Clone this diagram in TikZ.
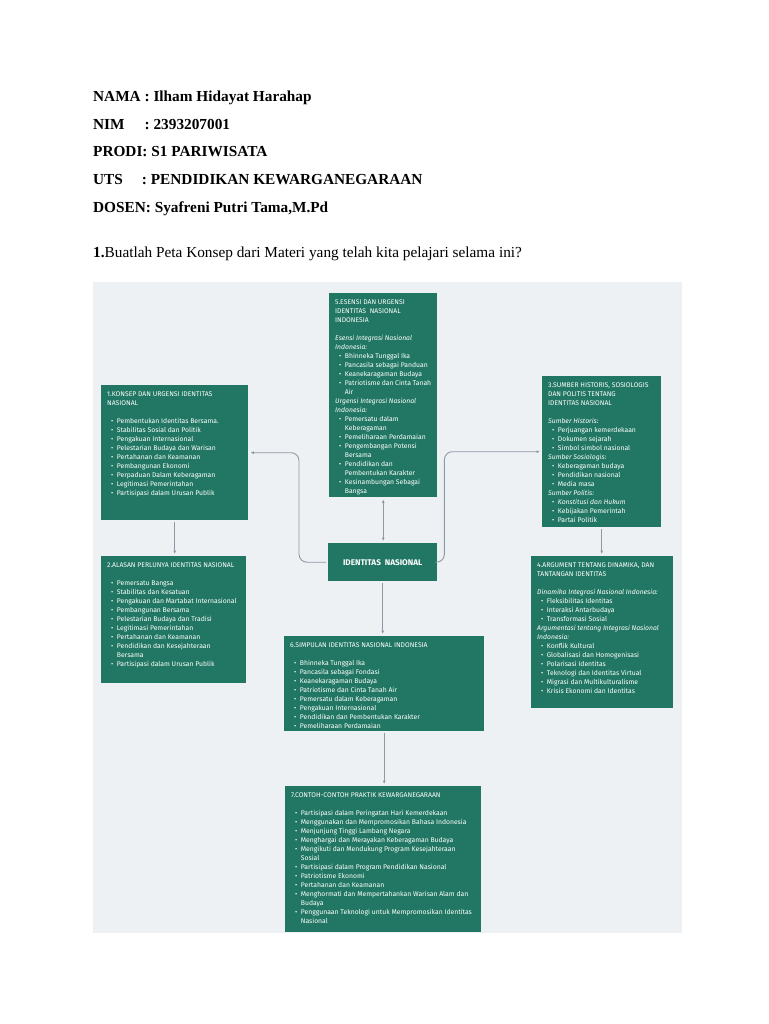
\documentclass[tikz,border=0pt]{standalone}
\usepackage{fontspec}
\setmainfont{Liberation Serif}
\newfontfamily\mapfont{Fira Sans}
\usetikzlibrary{arrows.meta, positioning}
\definecolor{mapgreen}{RGB}{33,119,99}
\definecolor{mapbg}{RGB}{238,241,244}
\definecolor{linkgray}{RGB}{142,153,166}
\newcommand{\pitem}{\hspace*{4pt}\textbullet\hspace{3.5pt}}
\newcommand{\pcont}{\hspace*{4pt}\phantom{\textbullet}\hspace{3.5pt}}

\begin{document}
\begin{tikzpicture}[x=1pt, y=-1pt,
    head/.style={anchor=base west, inner sep=0pt, font=\fontsize{15.3}{18}\selectfont\bfseries},
    panel/.style={anchor=north west, fill=mapgreen, text=white, inner xsep=6pt, inner ysep=7pt,
                  font=\mapfont\fontsize{6.8}{9}\selectfont},
    link/.style={draw=linkgray, line width=0.9pt, -{Latex[length=3.5pt,width=3pt]},
                 shorten >=2pt, shorten <=2pt}]
    \useasboundingbox (0,0) rectangle (768,1024);

    % header
    \node[head] (nama)  at (93,102)   {NAMA : Ilham Hidayat Harahap};
    \node[head] (nim)   at (93,129.5) {NIM\hspace{20pt}: 2393207001};
    \node[head] (prodi) at (93,157)   {PRODI: S1 PARIWISATA};
    \node[head] (uts)   at (93,185)   {UTS\hspace{19pt}: PENDIDIKAN KEWARGANEGARAAN};
    \node[head] (dosen) at (93,212.5) {DOSEN: Syafreni Putri Tama,M.Pd};
    \node[head, font=\fontsize{15.3}{18}\selectfont] (soal) at (93,257)
        {\textbf{1.}Buatlah Peta Konsep dari Materi yang telah kita pelajari selama ini?};

    % map background
    \fill[mapbg] (93,282) rectangle (682,933);

    % concept boxes
    \node[panel] (b5) at (329,293) {\parbox[t][190pt][t]{96pt}{%
        5.ESENSI DAN URGENSI\\
        IDENTITAS\ \ NASIONAL\\
        INDONESIA\\[9pt]
        \textit{Esensi Integrasi Nasional}\\
        \textit{Indonesia:}\\
        \pitem Bhinneka Tunggal Ika\\
        \pitem Pancasila sebagai Panduan\\
        \pitem Keanekaragaman Budaya\\
        \pitem Patriotisme dan Cinta Tanah\\
        \pcont Air\\
        \textit{Urgensi Integrasi Nasional}\\
        \textit{Indonesia:}\\
        \pitem Pemersatu dalam\\
        \pcont Keberagaman\\
        \pitem Pemeliharaan Perdamaian\\
        \pitem Pengembangan Potensi\\
        \pcont Bersama\\
        \pitem Pendidikan dan\\
        \pcont Pembentukan Karakter\\
        \pitem Kesinambungan Sebagai\\
        \pcont Bangsa}};

    \node[panel] (b1) at (101,385) {\parbox[t][121pt][t]{135pt}{%
        1.KONSEP DAN URGENSI IDENTITAS\\
        NASIONAL\\[9pt]
        \pitem Pembentukan Identitas Bersama.\\
        \pitem Stabilitas Sosial dan Politik\\
        \pitem Pengakuan Internasional\\
        \pitem Pelestarian Budaya dan Warisan\\
        \pitem Pertahanan dan Keamanan\\
        \pitem Pembangunan Ekonomi\\
        \pitem Perpaduan Dalam Keberagaman\\
        \pitem Legitimasi Pemerintahan\\
        \pitem Partisipasi dalam Urusan Publik}};

    \node[panel] (b3) at (542,376) {\parbox[t][137pt][t]{107pt}{%
        3.SUMBER HISTORIS, SOSIOLOGIS\\
        DAN POLITIS TENTANG\\
        \ IDENTITAS NASIONAL\\[9pt]
        \textit{Sumber Historis:}\\
        \pitem Perjuangan kemerdekaan\\
        \pitem Dokumen sejarah\\
        \pitem Simbol simbol nasional\\
        \textit{Sumber Sosiologis:}\\
        \pitem Keberagaman budaya\\
        \pitem Pendidikan nasional\\
        \pitem Media masa\\
        \textit{Sumber Politis:}\\
        \pitem \textit{Konstitusi dan Hukum}\\
        \pitem Kebijakan Pemerintah\\
        \pitem Partai Politik}};

    \node[panel] (cn) at (328,543) [minimum width=109pt, minimum height=38pt,
        font=\mapfont\bfseries\fontsize{8.2}{9}\selectfont] {IDENTITAS\ \ NASIONAL};

    \node[panel] (b2) at (101,556) {\parbox[t][113pt][t]{133pt}{%
        2.ALASAN PERLUNYA IDENTITAS NASIONAL\\[9pt]
        \pitem Pemersatu Bangsa\\
        \pitem Stabilitas dan Kesatuan\\
        \pitem Pengakuan dan Martabat Internasional\\
        \pitem Pembangunan Bersama\\
        \pitem Pelestarian Budaya dan Tradisi\\
        \pitem Legitimasi Pemerintahan\\
        \pitem Pertahanan dan Keamanan\\
        \pitem Pendidikan dan Kesejahteraan\\
        \pcont Bersama\\
        \pitem Partisipasi dalam Urusan Publik}};

    \node[panel] (b4) at (531,556) {\parbox[t][138pt][t]{130pt}{%
        4.ARGUMENT TENTANG DINAMIKA, DAN\\
        TANTANGAN IDENTITAS\\[9pt]
        \textit{Dinamika Integrasi Nasional Indonesia:}\\
        \pitem Fleksibilitas Identitas\\
        \pitem Interaksi Antarbudaya\\
        \pitem Transformasi Sosial\\
        \textit{Argumentasi tentang Integrasi Nasional}\\
        \textit{Indonesia:}\\
        \pitem Konflik Kultural\\
        \pitem Globalisasi dan Homogenisasi\\
        \pitem Polarisasi Identitas\\
        \pitem Teknologi dan Identitas Virtual\\
        \pitem Migrasi dan Multikulturalisme\\
        \pitem Krisis Ekonomi dan Identitas}};

    \node[panel] (b6) at (284,636) {\parbox[t][81pt][t]{188pt}{%
        6.SIMPULAN IDENTITAS NASIONAL INDONESIA\\[9pt]
        \pitem Bhinneka Tunggal Ika\\
        \pitem Pancasila sebagai Fondasi\\
        \pitem Keanekaragaman Budaya\\
        \pitem Patriotisme dan Cinta Tanah Air\\
        \pitem Pemersatu dalam Keberagaman\\
        \pitem Pengakuan Internasional\\
        \pitem Pendidikan dan Pembentukan Karakter\\
        \pitem Pemeliharaan Perdamaian}};

    \node[panel] (b7) at (285,786) {\parbox[t][132pt][t]{184pt}{%
        7.CONTOH-CONTOH PRAKTIK KEWARGANEGARAAN\\[9pt]
        \pitem Partisipasi dalam Peringatan Hari Kemerdekaan\\
        \pitem Menggunakan dan Mempromosikan Bahasa Indonesia\\
        \pitem Menjunjung Tinggi Lambang Negara\\
        \pitem Menghargai dan Merayakan Keberagaman Budaya\\
        \pitem Mengikuti dan Mendukung Program Kesejahteraan\\
        \pcont Sosial\\
        \pitem Partisipasi dalam Program Pendidikan Nasional\\
        \pitem Patriotisme Ekonomi\\
        \pitem Pertahanan dan Keamanan\\
        \pitem Menghormati dan Mempertahankan Warisan Alam dan\\
        \pcont Budaya\\
        \pitem Penggunaan Teknologi untuk Mempromosikan Identitas\\
        \pcont Nasional}};

    % connectors
    \draw[link, {Latex[length=3.5pt,width=3pt]}-{Latex[length=3.5pt,width=3pt]}] (b5.south) -- (b5.south |- cn.north);
    \draw[link, rounded corners=8pt] (cn.west) -- ++(-29,0) |- (b1.east);
    \draw[link, rounded corners=8pt] (cn.east) -- ++(7,0) |- (b3.west);
    \draw[link] (b1.south) -- (b1.south |- b2.north);
    \draw[link] (b3.south) -- (b3.south |- b4.north);
    \draw[link] (cn.south) -- (cn.south |- b6.north);
    \draw[link] (b6.south) -- (b6.south |- b7.north);
\end{tikzpicture}
\end{document}
